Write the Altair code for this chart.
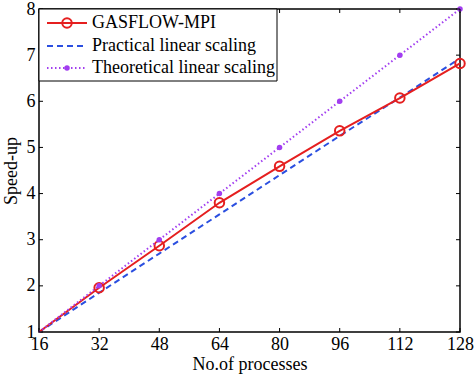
import altair as alt
import pandas as pd

procs = [16, 32, 48, 64, 80, 96, 112, 128]
gasflow = [1.0, 1.96, 2.87, 3.80, 4.59, 5.36, 6.07, 6.82]
practical = [1.0, 1.85, 2.70, 3.55, 4.40, 5.25, 6.08, 6.93]
theoretical = [1, 2, 3, 4, 5, 6, 7, 8]
marker_procs = [32, 48, 64, 80, 96, 112, 128]
x_ticks = [16, 32, 48, 64, 80, 96, 112, 128]
y_ticks = [1, 2, 3, 4, 5, 6, 7, 8]

W, H = 421, 323
FONT = "Times New Roman, Liberation Serif, serif"
RED, BLUE, PURPLE = "#e51f1f", "#2b4fe0", "#a23ef0"

df = pd.DataFrame({"x": procs, "g": gasflow, "p": practical, "t": theoretical})
dfm = df[df["x"].isin(marker_procs)]
xs = alt.Scale(domain=[16, 128], nice=False, zero=False)
ys = alt.Scale(domain=[1, 8], nice=False, zero=False)

xax = alt.Axis(values=x_ticks, ticks=False, domain=False, grid=False, labelFont=FONT,
               labelFontSize=18, labelColor="black", labelPadding=3, title="No.of processes",
               titleFont=FONT, titleFontSize=18, titleFontWeight="normal", titleColor="black",
               titlePadding=2, labelFlush=False)
yax = alt.Axis(values=y_ticks, ticks=False, domain=False, grid=False, labelFont=FONT,
               labelFontSize=18, labelColor="black", labelPadding=4, title="Speed-up",
               titleFont=FONT, titleFontSize=18, titleFontWeight="normal", titleColor="black",
               titlePadding=6, labelFlush=False)

base = alt.Chart(df)
prac = base.mark_line(color=BLUE, strokeWidth=2, strokeDash=[6, 4]).encode(
    x=alt.X("x:Q", scale=xs, axis=xax), y=alt.Y("p:Q", scale=ys, axis=yax))
gas = base.mark_line(color=RED, strokeWidth=2).encode(
    x=alt.X("x:Q", scale=xs), y=alt.Y("g:Q", scale=ys))
gas_pts = alt.Chart(dfm).mark_point(color=RED, filled=False, size=90, strokeWidth=2, opacity=1).encode(
    x=alt.X("x:Q", scale=xs), y=alt.Y("g:Q", scale=ys))
theo = base.mark_line(color=PURPLE, strokeWidth=2, strokeDash=[1.5, 2.5]).encode(
    x=alt.X("x:Q", scale=xs), y=alt.Y("t:Q", scale=ys))
theo_pts = alt.Chart(dfm).mark_point(color=PURPLE, filled=True, size=30, opacity=1).encode(
    x=alt.X("x:Q", scale=xs), y=alt.Y("t:Q", scale=ys))

xt = pd.DataFrame({"v": x_ticks})
yt = pd.DataFrame({"v": y_ticks})
tl = 4
tick_layers = [
    alt.Chart(xt).mark_rule(color="black", strokeWidth=1).encode(
        x=alt.X("v:Q", scale=xs), y=alt.value(H), y2=alt.value(H - tl)),
    alt.Chart(xt).mark_rule(color="black", strokeWidth=1).encode(
        x=alt.X("v:Q", scale=xs), y=alt.value(0), y2=alt.value(tl)),
    alt.Chart(yt).mark_rule(color="black", strokeWidth=1).encode(
        y=alt.Y("v:Q", scale=ys), x=alt.value(0), x2=alt.value(tl)),
    alt.Chart(yt).mark_rule(color="black", strokeWidth=1).encode(
        y=alt.Y("v:Q", scale=ys), x=alt.value(W), x2=alt.value(W - tl)),
]

# legend
one = pd.DataFrame({"a": [0]})
leg_box = alt.Chart(one).mark_rect(fill="white", stroke="black", strokeWidth=1).encode(
    x=alt.value(0), x2=alt.value(238), y=alt.value(0), y2=alt.value(72))
labels = ["GASFLOW-MPI", "Practical linear scaling", "Theoretical linear scaling"]
rows = [14, 37, 59]
lx0, lx1, tx = 8, 48, 53
leg = [leg_box]
leg.append(alt.Chart(one).mark_rule(color=RED, strokeWidth=2).encode(
    x=alt.value(lx0), x2=alt.value(lx1), y=alt.value(rows[0])))
leg.append(alt.Chart(one).mark_point(color=RED, filled=False, size=90, strokeWidth=2, opacity=1).encode(
    x=alt.value((lx0 + lx1) / 2), y=alt.value(rows[0])))
leg.append(alt.Chart(one).mark_rule(color=BLUE, strokeWidth=2, strokeDash=[6, 4]).encode(
    x=alt.value(lx0), x2=alt.value(lx1), y=alt.value(rows[1])))
leg.append(alt.Chart(one).mark_rule(color=PURPLE, strokeWidth=2, strokeDash=[1.5, 2.5]).encode(
    x=alt.value(lx0), x2=alt.value(lx1), y=alt.value(rows[2])))
leg.append(alt.Chart(one).mark_point(color=PURPLE, filled=True, size=30, opacity=1).encode(
    x=alt.value((lx0 + lx1) / 2), y=alt.value(rows[2])))
for lab, r in zip(labels, rows):
    leg.append(alt.Chart(one).mark_text(align="left", baseline="middle", font=FONT,
                                        fontSize=18, color="black").encode(
        x=alt.value(tx), y=alt.value(r), text=alt.datum(lab)))

chart = alt.layer(prac, gas, gas_pts, theo, theo_pts, *tick_layers, *leg).properties(
    width=W, height=H,
    autosize=alt.AutoSizeParams(type="none"),
    padding={"left": 39, "top": 9, "right": 14, "bottom": 45},
    background="white",
).configure_view(stroke="black", strokeWidth=1.5)

chart.save("out.html", embed_options={"renderer": "svg", "actions": False})
